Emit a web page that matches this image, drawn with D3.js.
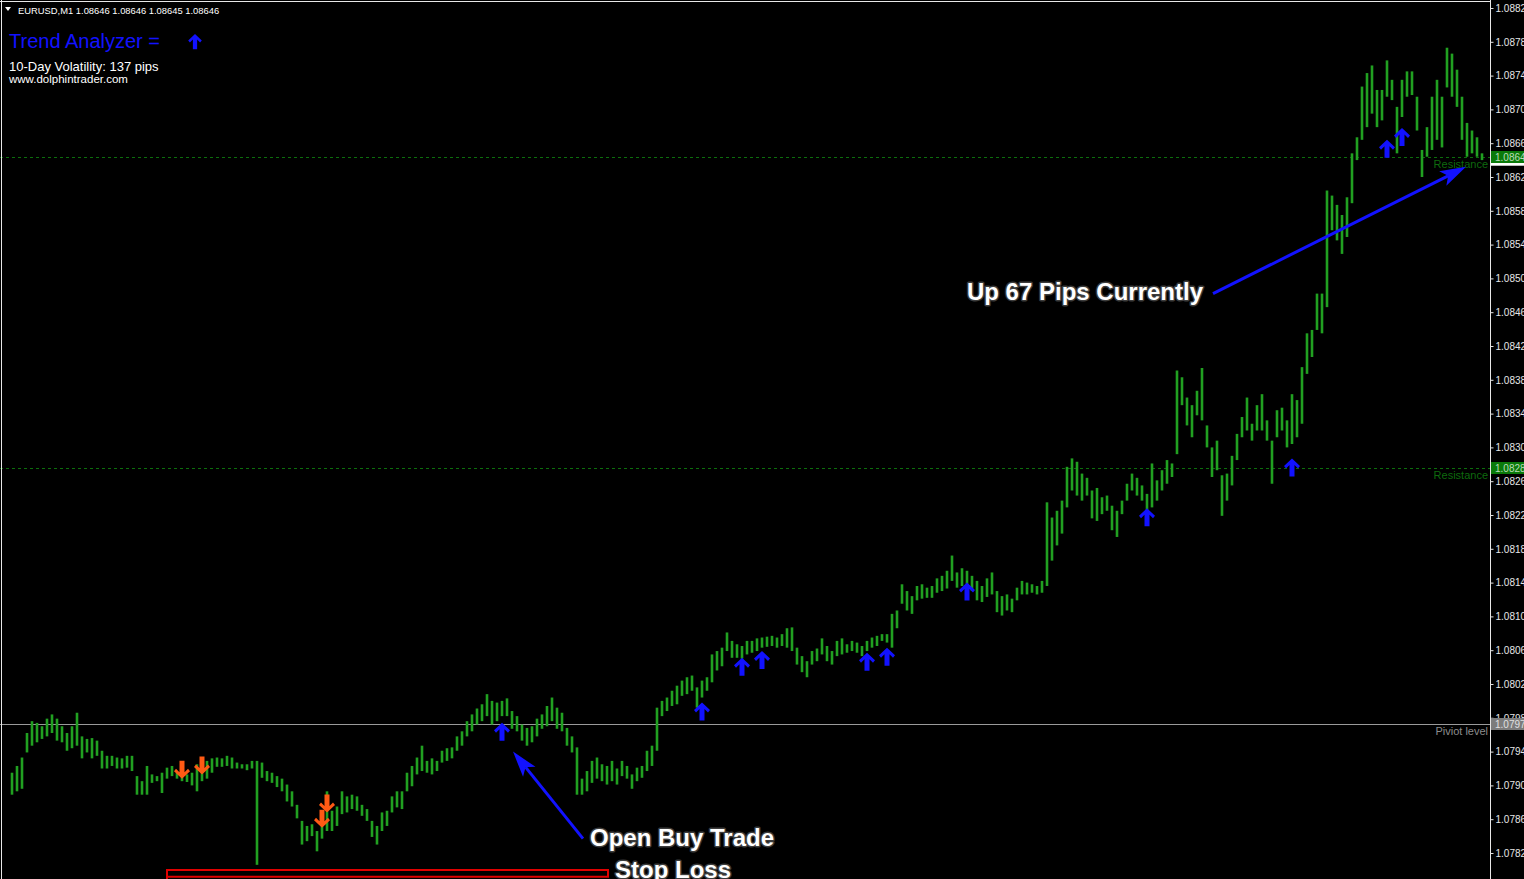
<!DOCTYPE html>
<html>
<head>
<meta charset="utf-8">
<script src="https://cdn.jsdelivr.net/npm/d3@7"></script>
<style>
  html, body { margin: 0; padding: 0; background: #000; overflow: hidden; }
  svg { display: block; font-family: "Liberation Sans", Arial, sans-serif; }
</style>
</head>
<body>
<div id="chart"></div>
<script>
// EURUSD M1 bars left to right (high / low per bar)
const barHigh = [
  1.07915,1.07923,1.07933,1.07962,1.07976,1.07974,1.07970,1.07979,1.07984,1.07979,
  1.07970,1.07962,1.07970,1.07986,1.07958,1.07955,1.07956,1.07953,1.07941,1.07935,
  1.07935,1.07933,1.07932,1.07935,1.07935,1.07911,1.07905,1.07923,1.07913,1.07911,
  1.07915,1.07921,1.07923,1.07915,1.07915,1.07913,1.07915,1.07925,1.07923,1.07929,
  1.07932,1.07933,1.07932,1.07935,1.07933,1.07927,1.07925,1.07925,1.07929,1.07929,
  1.07927,1.07917,1.07915,1.07911,1.07908,1.07901,1.07893,1.07877,1.07858,1.07852,
  1.07854,1.07846,1.07864,1.07893,1.07870,1.07875,1.07893,1.07887,1.07889,1.07887,
  1.07877,1.07872,1.07858,1.07852,1.07868,1.07870,1.07887,1.07893,
  1.07893,1.07915,1.07923,1.07933,1.07947,1.07929,1.07932,1.07929,1.07941,1.07944,
  1.07945,1.07958,1.07964,1.07976,1.07984,1.07991,1.07996,1.08008,1.08000,1.07998,
  1.08000,1.08003,1.07988,1.07982,1.07972,1.07968,1.07970,1.07979,1.07984,1.07994,
  1.08004,1.07992,1.07986,1.07968,1.07958,1.07945,1.07908,1.07917,1.07929,1.07933,
  1.07925,1.07923,1.07929,1.07920,1.07929,1.07923,1.07913,1.07921,1.07923,1.07941,
  1.07947,1.07992,1.08000,1.08004,1.08012,1.08018,1.08024,1.08028,1.08030,1.08016,
  1.08024,1.08028,1.08055,1.08059,1.08063,1.08081,1.08071,1.08067,1.08065,1.08071,
  1.08071,1.08074,1.08075,1.08076,1.08077,1.08075,1.08079,1.08086,1.08087,1.08063,
  1.08053,1.08047,1.08059,1.08062,1.08074,1.08065,1.08059,1.08071,1.08074,1.08067,
  1.08071,1.08069,1.08065,1.08071,1.08075,1.08077,1.08079,1.08079,1.08103,1.08107,
  1.08138,1.08130,1.08124,1.08136,1.08138,1.08134,1.08136,1.08145,1.08148,1.08154,
  1.08172,1.08152,1.08157,1.08154,1.08148,1.08142,1.08136,1.08145,1.08152,1.08130,
  1.08124,1.08126,1.08121,1.08134,1.08142,1.08140,1.08138,1.08136,1.08142,
  1.08235,1.08217,1.08225,1.08237,1.08277,1.08287,1.08283,1.08269,1.08264,1.08249,
  1.08252,1.08241,1.08243,1.08231,1.08225,1.08237,1.08257,1.08269,1.08264,1.08255,
  1.08245,1.08281,1.08261,1.08273,1.08285,1.08281,1.08391,1.08383,1.08359,1.08350,
  1.08367,1.08394,1.08326,1.08300,1.08308,1.08267,1.08269,1.08290,1.08316,1.08336,
  1.08359,1.08328,1.08350,1.08363,1.08332,1.08308,1.08344,1.08347,1.08332,1.08363,
  1.08356,1.08395,1.08435,1.08439,1.08482,1.08482,1.08604,1.08598,1.08587,1.08575,
  1.08596,1.08648,1.08667,1.08727,1.08743,1.08752,1.08723,1.08723,1.08758,1.08735,
  1.08703,1.08735,1.08745,1.08745,1.08715,1.08652,1.08679,1.08715,1.08735,1.08715,
  1.08773,1.08766,1.08747,1.08715,1.08684,1.08675,1.08667,1.08648
];
const barLow = [
  1.07889,1.07893,1.07896,1.07939,1.07947,1.07951,1.07955,1.07958,1.07962,1.07953,
  1.07951,1.07941,1.07944,1.07947,1.07932,1.07939,1.07932,1.07935,1.07920,1.07920,
  1.07923,1.07920,1.07920,1.07921,1.07917,1.07889,1.07889,1.07889,1.07903,1.07905,
  1.07891,1.07908,1.07911,1.07908,1.07905,1.07904,1.07900,1.07893,1.07905,1.07908,
  1.07915,1.07922,1.07922,1.07923,1.07920,1.07920,1.07920,1.07918,1.07920,1.07806,
  1.07909,1.07905,1.07903,1.07898,1.07893,1.07881,1.07875,1.07861,1.07830,1.07834,
  1.07840,1.07822,1.07837,1.07846,1.07846,1.07852,1.07866,1.07868,1.07872,1.07870,
  1.07864,1.07858,1.07839,1.07830,1.07846,1.07852,1.07868,1.07874,
  1.07872,1.07893,1.07899,1.07913,1.07917,1.07915,1.07913,1.07917,1.07927,1.07929,
  1.07932,1.07941,1.07947,1.07958,1.07964,1.07972,1.07976,1.07982,1.07972,1.07976,
  1.07982,1.07982,1.07967,1.07964,1.07953,1.07947,1.07951,1.07958,1.07967,1.07970,
  1.07976,1.07967,1.07964,1.07947,1.07939,1.07889,1.07889,1.07893,1.07903,1.07908,
  1.07905,1.07901,1.07905,1.07901,1.07911,1.07908,1.07896,1.07905,1.07909,1.07917,
  1.07923,1.07941,1.07982,1.07988,1.07994,1.07996,1.08006,1.08008,1.08012,1.07992,
  1.08004,1.08012,1.08022,1.08036,1.08041,1.08059,1.08051,1.08051,1.08050,1.08055,
  1.08057,1.08059,1.08063,1.08064,1.08065,1.08063,1.08065,1.08063,1.08059,1.08043,
  1.08034,1.08028,1.08043,1.08047,1.08055,1.08047,1.08043,1.08053,1.08055,1.08057,
  1.08059,1.08057,1.08053,1.08059,1.08063,1.08065,1.08071,1.08069,1.08063,1.08086,
  1.08115,1.08107,1.08103,1.08119,1.08121,1.08122,1.08122,1.08128,1.08130,1.08133,
  1.08142,1.08134,1.08136,1.08130,1.08130,1.08119,1.08117,1.08123,1.08126,1.08105,
  1.08101,1.08107,1.08105,1.08119,1.08126,1.08126,1.08128,1.08126,1.08128,
  1.08136,1.08166,1.08184,1.08198,1.08229,1.08249,1.08243,1.08237,1.08243,1.08216,
  1.08213,1.08221,1.08225,1.08202,1.08194,1.08221,1.08237,1.08249,1.08243,1.08237,
  1.08209,1.08229,1.08237,1.08249,1.08257,1.08265,1.08292,1.08350,1.08326,1.08312,
  1.08338,1.08332,1.08300,1.08265,1.08273,1.08219,1.08237,1.08255,1.08285,1.08312,
  1.08320,1.08308,1.08320,1.08320,1.08308,1.08257,1.08312,1.08320,1.08300,1.08304,
  1.08312,1.08328,1.08387,1.08407,1.08439,1.08435,1.08466,1.08557,1.08545,1.08529,
  1.08549,1.08589,1.08640,1.08664,1.08679,1.08695,1.08679,1.08687,1.08715,1.08711,
  1.08648,1.08691,1.08715,1.08717,1.08675,1.08620,1.08644,1.08652,1.08664,1.08655,
  1.08726,1.08715,1.08703,1.08664,1.08644,1.08648,1.08644,1.08640
];

// price scale tick labels
const tickPrices = [1.0882,1.0878,1.0874,1.0870,1.0866,1.0862,1.0858,1.0854,1.0850,1.0846,
  1.0842,1.0838,1.0834,1.0830,1.0826,1.0822,1.0818,1.0814,1.0810,1.0806,1.0802,1.0798,
  1.0794,1.0790,1.0786,1.0782];

// pivot / resistance levels
const levelNames = ["Resistance", "Resistance", "Piviot level"];
const levelPrices = [1.08644, 1.08276, 1.07973];

// indicator arrows: bar index + tip price
const buyIdx = [98, 138, 146, 150, 171, 175, 191, 227, 256, 275, 278];
const buyTip = [1.07974, 1.07998, 1.08051, 1.08059, 1.08057, 1.08063, 1.08140, 1.08228, 1.08287, 1.08664, 1.08678];
const sellIdx = [34, 38, 62, 63];
const sellTip = [1.07908, 1.07913, 1.07850, 1.07868];

const headerText = "EURUSD,M1  1.08646 1.08646 1.08645 1.08646";

const w = 1524, h = 879;
const axisX = 1490;
const green = "#21a021";
const blue = "#1212ff";

const svg = d3.select("#chart").append("svg")
  .attr("width", w).attr("height", h)
  .style("background-color", "#000");

const x = d3.scaleLinear().domain([0, barHigh.length - 1]).range([12, 1482]);
const y = d3.scaleLinear().domain([1.0782, 1.0882]).range([853, 8]);

// level lines
const levelColor = ["#0c6e0c", "#0c6e0c", "#9a9a9a"];
svg.append("g").selectAll("line")
  .data(levelPrices).join("line")
  .attr("x1", 0).attr("x2", axisX)
  .attr("y1", d => Math.round(y(d)) + 0.5).attr("y2", d => Math.round(y(d)) + 0.5)
  .attr("stroke", (d, i) => levelColor[i])
  .attr("stroke-width", 1)
  .attr("stroke-dasharray", (d, i) => i < 2 ? "3,3" : null);

svg.append("g").selectAll("text")
  .data(levelPrices).join("text")
  .attr("x", axisX - 2)
  .attr("y", d => y(d) + 11)
  .attr("text-anchor", "end")
  .style("font-size", "11px")
  .style("fill", (d, i) => i < 2 ? "#0e6a0e" : "#8c8c8c")
  .text((d, i) => levelNames[i]);

// bars
svg.append("g").selectAll("line")
  .data(barHigh).join("line")
  .attr("x1", (d, i) => x(i)).attr("x2", (d, i) => x(i))
  .attr("y1", d => y(d))
  .attr("y2", (d, i) => y(barLow[i]))
  .attr("stroke", green)
  .attr("stroke-width", 2.6);

// signal arrows
const upArrow = "M0,0 L8,7.5 L6,10 L2.5,6.5 L2.5,18 L-2.5,18 L-2.5,6.5 L-6,10 L-8,7.5 Z";
const downArrow = "M0,0 L8,-7.5 L6,-10 L2.5,-6.5 L2.5,-18 L-2.5,-18 L-2.5,-6.5 L-6,-10 L-8,-7.5 Z";

svg.append("g").selectAll("path")
  .data(buyIdx).join("path")
  .attr("d", upArrow)
  .attr("transform", (d, i) => `translate(${x(d)},${y(buyTip[i])})`)
  .attr("fill", blue);

svg.append("g").selectAll("path")
  .data(sellIdx).join("path")
  .attr("d", downArrow)
  .attr("transform", (d, i) => `translate(${x(d)},${y(sellTip[i])})`)
  .attr("fill", "#ff5a14");

// price axis
const yAxis = d3.axisRight(y)
  .tickValues(tickPrices)
  .tickFormat(d3.format(".4f"))
  .tickSize(3)
  .tickPadding(2);

const axisG = svg.append("g")
  .attr("transform", `translate(${axisX + 0.5},0)`)
  .call(yAxis);
axisG.select(".domain").remove();
axisG.selectAll(".tick line").attr("stroke", "#e0e0e0");
axisG.selectAll(".tick text")
  .attr("fill", "#e6e6e6")
  .style("font-family", "'Liberation Sans', Arial, sans-serif")
  .style("font-size", "10px");

// frame
svg.append("line").attr("x1", axisX + 0.5).attr("x2", axisX + 0.5).attr("y1", 0).attr("y2", h)
  .attr("stroke", "#e8e8e8");
svg.append("line").attr("x1", 1.5).attr("x2", 1.5).attr("y1", 0).attr("y2", h)
  .attr("stroke", "#e8e8e8");
svg.append("line").attr("x1", 0).attr("x2", axisX).attr("y1", 1.5).attr("y2", 1.5)
  .attr("stroke", "#e8e8e8");

// bid marker (mostly hidden under the resistance label)
svg.append("rect")
  .attr("x", axisX + 1).attr("y", y(levelPrices[0]) + 6)
  .attr("width", w - axisX).attr("height", 3)
  .attr("fill", "#fff");

// level labels on the axis
const labelFill = ["#0a7a0a", "#0a7a0a", "#7c7c7c"];
const lab = svg.append("g").selectAll("g")
  .data(levelPrices).join("g")
  .attr("transform", d => `translate(${axisX + 1},${Math.round(y(d)) - 6})`);
lab.append("rect")
  .attr("width", w - axisX).attr("height", 12)
  .attr("fill", (d, i) => labelFill[i]);
lab.append("text")
  .attr("x", 4).attr("y", 10)
  .style("font-size", "10px")
  .style("fill", (d, i) => i < 2 ? "#b8dcb8" : "#e0e0e0")
  .text(d => d3.format(".4f")(d));

// header + indicator text
svg.append("path").attr("d", "M5,7 L11,7 L8,11 Z").attr("fill", "#fff");
svg.append("text").attr("x", 18).attr("y", 14)
  .style("font-size", "9.4px").style("fill", "#fff")
  .text(headerText);

svg.append("text").attr("x", 9).attr("y", 48)
  .style("font-size", "20px").style("fill", blue)
  .text("Trend Analyzer =");
svg.append("path").attr("d", upArrow)
  .attr("transform", "translate(195,34) scale(0.85)")
  .attr("fill", blue);
svg.append("text").attr("x", 9).attr("y", 71)
  .style("font-size", "13px").style("fill", "#fff")
  .text("10-Day Volatility: 137 pips");
svg.append("text").attr("x", 9).attr("y", 83)
  .style("font-size", "11.5px").style("fill", "#fff")
  .text("www.dolphintrader.com");

// stop loss box
svg.append("path")
  .attr("d", `M${x(31)},${h + 4} L${x(31)},${y(1.0780)} L${x(119.2)},${y(1.0780)} L${x(119.2)},${y(1.07792)} L${x(31)},${y(1.07792)}`)
  .attr("fill", "none")
  .attr("stroke", "#e00000")
  .attr("stroke-width", 2);

// annotations
function pointer(i1, p1, i2, p2) {
  const x1 = x(i1), y1 = y(p1), x2 = x(i2), y2 = y(p2);
  const ang = Math.atan2(y2 - y1, x2 - x1);
  const len = 26, half = 8;
  const bx = x2 - len * Math.cos(ang), by = y2 - len * Math.sin(ang);
  const nx = x2 - (len - 6) * Math.cos(ang), ny = y2 - (len - 6) * Math.sin(ang);
  svg.append("line")
    .attr("x1", x1).attr("y1", y1).attr("x2", nx).attr("y2", ny)
    .attr("stroke", blue).attr("stroke-width", 3);
  const pts = [
    [x2, y2],
    [bx - half * Math.sin(ang), by + half * Math.cos(ang)],
    [nx, ny],
    [bx + half * Math.sin(ang), by - half * Math.cos(ang)]
  ];
  svg.append("path").attr("d", "M" + pts.join("L") + "Z").attr("fill", blue);
}
pointer(240.2, 1.08482, 290.8, 1.08632);
pointer(114.2, 1.07837, 100.2, 1.07940);

function label(txt, i, p, anchor) {
  svg.append("text")
    .attr("x", x(i)).attr("y", y(p))
    .attr("text-anchor", anchor)
    .style("font-size", "24px").style("font-weight", "bold")
    .style("fill", "#fff")
    .style("stroke", "#3c3c3c").style("stroke-width", "3px")
    .style("paint-order", "stroke")
    .style("stroke-linejoin", "round")
    .text(txt);
}
label("Up 67 Pips Currently", 238.2, 1.08475, "end");
label("Open Buy Trade", 115.6, 1.07828, "start");
label("Stop Loss", 120.6, 1.07791, "start");
</script>
</body>
</html>
